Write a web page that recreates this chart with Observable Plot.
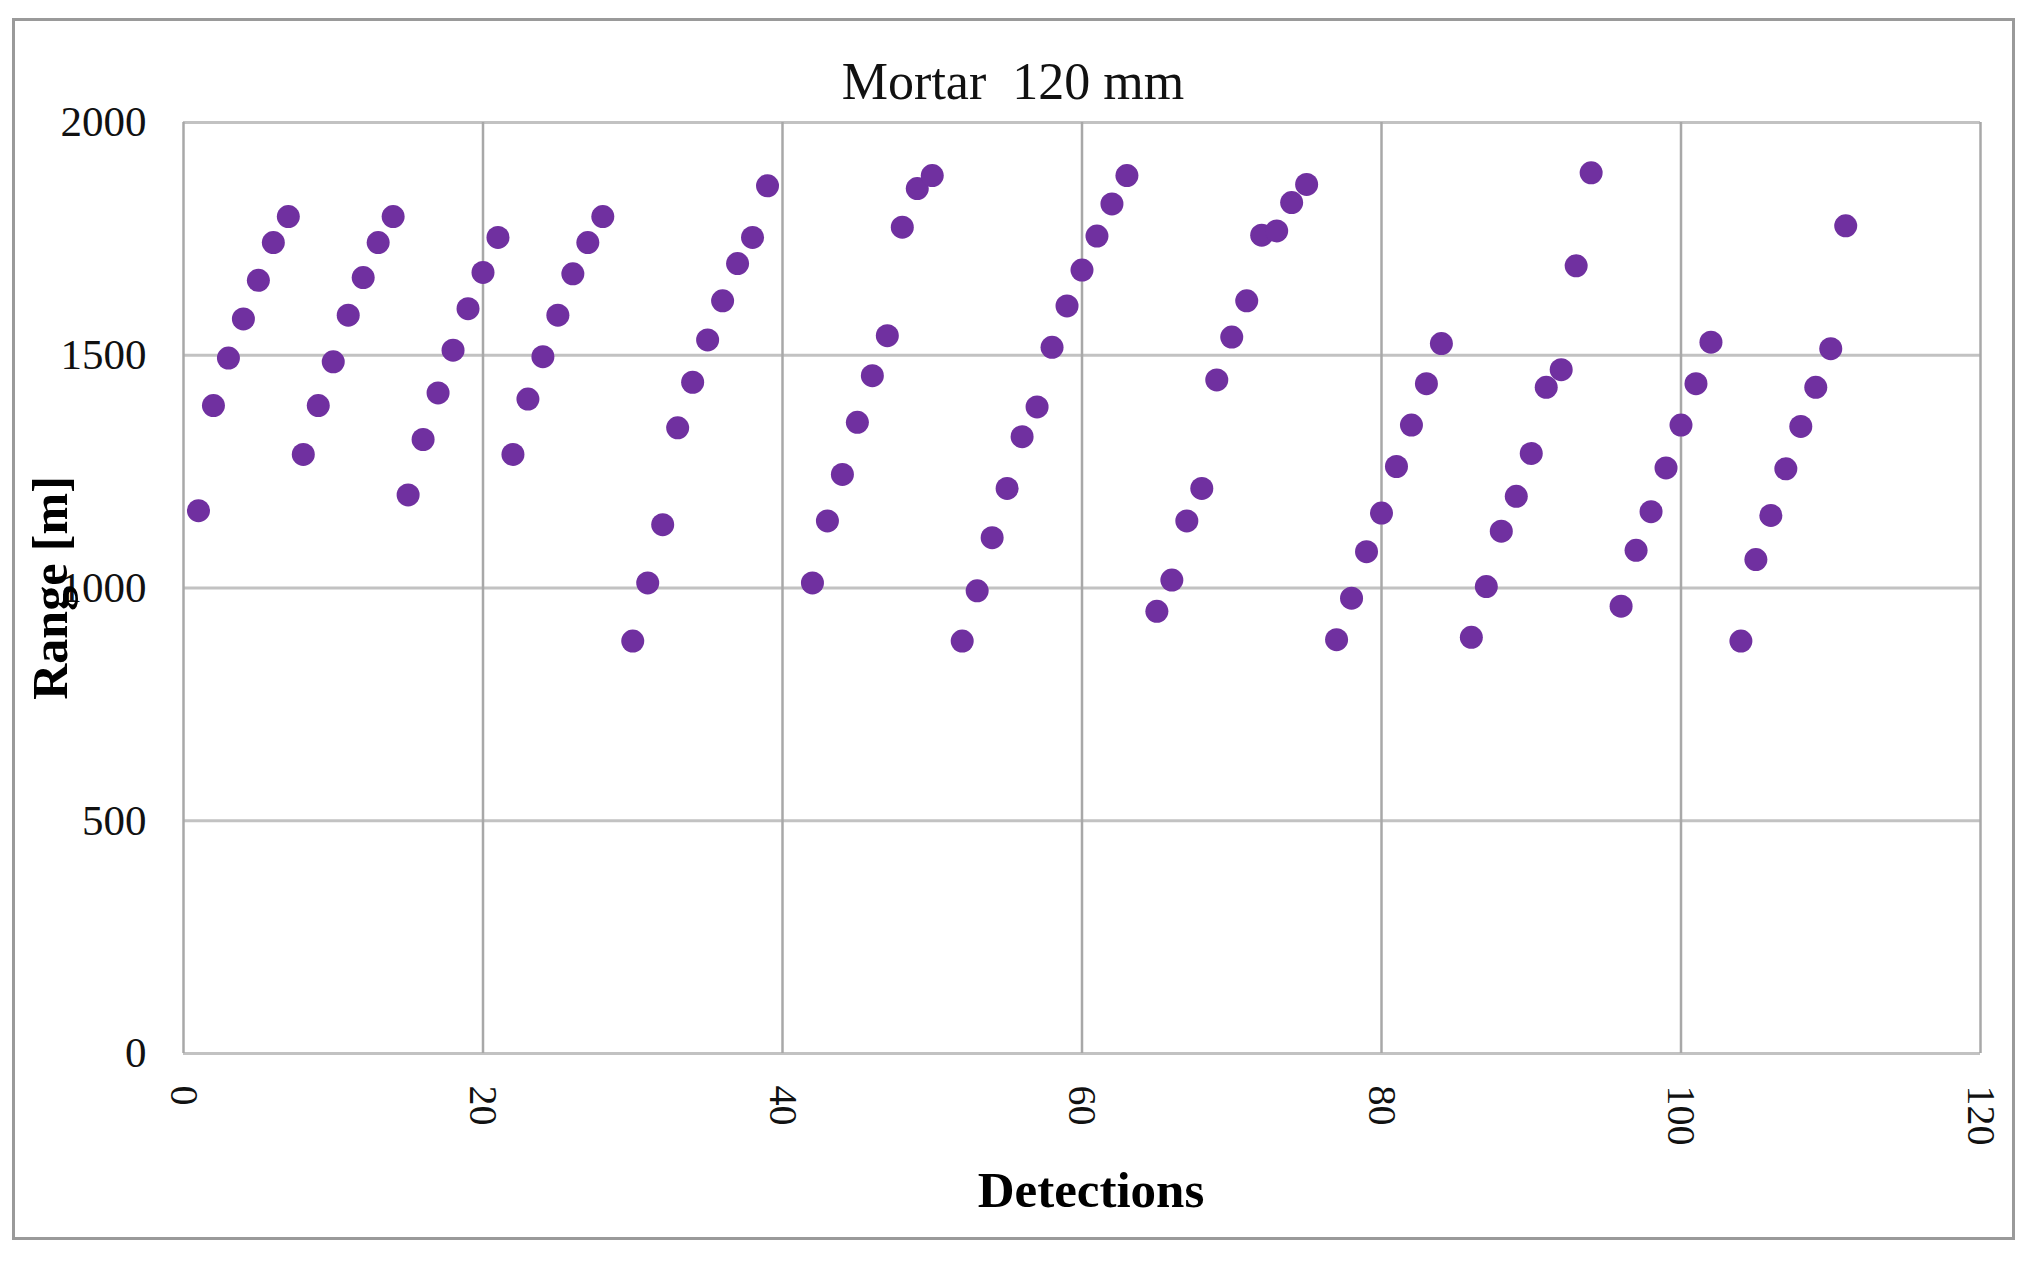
<!DOCTYPE html>
<html>
<head>
<meta charset="utf-8">
<script src="https://cdn.jsdelivr.net/npm/d3@7"></script>
<script src="https://cdn.jsdelivr.net/npm/@observablehq/plot@0.6"></script>
<style>
  html, body { margin: 0; padding: 0; background: #fff; overflow: hidden; }
  #wrap { position: relative; width: 2027px; height: 1263px; }
  #border { position: absolute; left: 12px; top: 18px; width: 2003px; height: 1222px; border: 3px solid #9a9a9a; box-sizing: border-box; pointer-events: none; }
  svg { display: block; }
</style>
</head>
<body>
<div id="wrap"><div id="border"></div></div>
<script>
const title = "Mortar\u00a0 120 mm";
const xLabel = "Detections";
const yLabel = "Range [m]";
const xTicks = [0, 20, 40, 60, 80, 100, 120];
const yTicks = [0, 500, 1000, 1500, 2000];

const detections = [
  1, 2, 3, 4, 5, 6, 7,
  8, 9, 10, 11, 12, 13, 14,
  15, 16, 17, 18, 19, 20, 21,
  22, 23, 24, 25, 26, 27, 28,
  30, 31, 32, 33, 34, 35, 36, 37, 38, 39,
  42, 43, 44, 45, 46, 47, 48, 49, 50,
  52, 53, 54, 55, 56, 57, 58, 59, 60, 61, 62, 63,
  65, 66, 67, 68, 69, 70, 71, 72, 73, 74, 75,
  77, 78, 79, 80, 81, 82, 83, 84,
  86, 87, 88, 89, 90, 91, 92, 93, 94,
  96, 97, 98, 99, 100, 101, 102,
  104, 105, 106, 107, 108, 109, 110, 111
];
const ranges = [
  1166, 1392, 1494, 1578, 1661, 1742, 1798,
  1287, 1392, 1486, 1586, 1667, 1742, 1798,
  1200, 1319, 1419, 1511, 1600, 1678, 1753,
  1287, 1406, 1497, 1586, 1675, 1742, 1798,
  886, 1011, 1136, 1344, 1442, 1533, 1617, 1697, 1753, 1864,
  1011, 1144, 1244, 1356, 1456, 1542, 1775, 1858, 1886,
  886, 994, 1108, 1214, 1325, 1389, 1517, 1606, 1683, 1756, 1825, 1886,
  950, 1017, 1144, 1214, 1447, 1539, 1617, 1758, 1767, 1828, 1867,
  889, 978, 1078, 1161, 1261, 1350, 1439, 1525,
  894, 1003, 1122, 1197, 1289, 1431, 1469, 1692, 1892,
  961, 1081, 1164, 1258, 1350, 1439, 1528,
  886, 1061, 1156, 1256, 1347, 1431, 1514, 1778
];

const data = detections.map((d, i) => ({detection: d, range: ranges[i]}));

const chart = Plot.plot({
  width: 2027,
  height: 1263,
  marginLeft: 183,
  marginRight: 47,
  marginTop: 122,
  marginBottom: 210,
  x: {domain: [0, 120]},
  y: {domain: [0, 2000]},
  style: {
    fontFamily: "'Liberation Serif', 'Times New Roman', serif",
    color: "#111",
    background: "transparent",
    overflow: "visible"
  },
  marks: [
    Plot.ruleY(yTicks, {y: d => d, stroke: "#c2c2c2", strokeWidth: 3}),
    Plot.ruleX(xTicks, {x: d => d, stroke: "#a8a8a8", strokeWidth: 2.5}),
    Plot.axisX(xTicks, {tickSize: 0, tickPadding: 32, tickRotate: 90, fontSize: 40, label: null, tickFormat: d => String(d)}),
    Plot.axisY(yTicks, {tickSize: 0, tickPadding: 37, fontSize: 43, label: null, tickFormat: d => String(d)}),
    Plot.dot(data, {x: "detection", y: "range", r: 11.5, fill: "#7030A0", stroke: "none"}),
    Plot.text([title], {text: d => d, frameAnchor: "top", textAnchor: "middle", lineAnchor: "middle", dx: -69, dy: -40, fontSize: 52, fill: "#111"}),
    Plot.text([xLabel], {text: d => d, frameAnchor: "bottom", textAnchor: "middle", lineAnchor: "middle", dx: 9, dy: 137, fontSize: 51, fontWeight: "bold", fill: "#000"}),
    Plot.text([yLabel], {text: d => d, frameAnchor: "left", textAnchor: "middle", lineAnchor: "middle", dx: -133, rotate: -90, fontSize: 50, fontWeight: "bold", fill: "#000"})
  ]
});
document.getElementById("wrap").prepend(chart);
</script>
</body>
</html>
